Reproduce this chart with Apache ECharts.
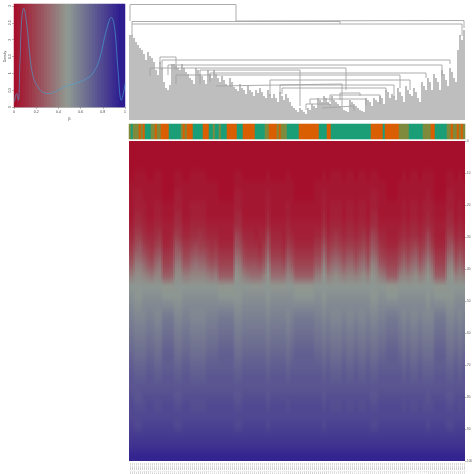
<!DOCTYPE html>
<html><head><meta charset="utf-8">
<style>html,body{margin:0;padding:0;background:#fff}#c{width:474px;height:474px}</style>
<script src="https://cdn.jsdelivr.net/npm/echarts@6/dist/echarts.min.js"></script>
</head><body><div id="c"></div>
<script>
// heatmap levels, base 36: 0 = red, i = grey, z = blue. One string per row, top to bottom.
const heatRows = [
"000000000000 000000000000 000000000000 000000000000 000000000000 000000000000 000000000000",
"000000000000 000000000000 000000000000 000000000000 000000000000 000000000000 000000000000",
"000000000000 000000000000 000000000000 000000000000 000000000000 000000000000 000000000000",
"011100110001 100111100000 001100000010 000100000000 101110110110 110000001011 011100011010",
"111111110001 111111111100 001111111111 111110000011 111111111111 111100011111 111100011111",
"122111110002 211111111100 002211111121 111110000011 211111111111 221100011111 112100022111",
"122211221112 211222211111 112211111121 111211111111 212221221221 221111112122 122211122121",
"133211221113 311222211111 113311111131 111211111111 312221221221 331111112122 123211133121",
"244322332224 422333322222 224422222242 222322222222 423332332332 442222223233 234322244232",
"366433452236 533445433322 227633323373 332432222233 634543443453 763322234344 347422266343",
"589654673349 855676654533 339854443594 443653333355 956765665675 985433356567 569633389565",
"7bb9769a556b b779a9976755 55cb766657c6 665975555577 c79a979979a7 cb765557979a 79c9555bc797",
"aeeca9cd778e eaacdcca9a77 77fea9998af9 998ca77777aa facdcaccacda fea9777acacd acfc777efaca",
"eggfedffaabg geeffffedeaa aahgedcccehc cccfeaaaaaee hefgfeffefge hgedaaaefefg efhfaaaghefe",
"iiiiiiiihhhi iiiiiiiiiihh hhiiiihhhiih hhhiihhhhhii iiiiiiiiiiii iiiihhhiiiii iiiihhhiiiii",
"jiijjjjjiiii ijjjjjjjjjii iiiijjjjjjij jjjjjiiiiijj ijjjjjjjjjjj iijjiiijjjjj jjijiiiiijjj",
"kjjkkkkkkkkj jkkkkkkkkkkk kkjjkkkkkkjk kkkkkkkkkkkk jkkkkkkkkkkk jjkkkkkkkkkk kkjkkkkjjkkk",
"lkkkllkkmmmk kllkkkklllmm mmkkllllllkl lllklmmmmmll klkkklkklkkl kkllmmmlklkk lkkkmmmkklkl",
"mlllmmllnnnl lmmllllmmmnn nnllmmmmmmlm mmmlmnnnnnmm lmlllmllmllm llmmnnnmlmll mlllnnnllmlm",
"nmmmnnmmooom mnnmmmmnnnoo oommnnnnnnmn nnnmnooooonn mnmmmnmmnmmn mmnnooonmnmm nmmmooommnmn",
"onnnoonnpppn noonnnnooopp ppnnoooooono ooonopppppoo nonnnonnonno nnoopppononn onnnpppnnono",
"poooppooqqqo oppoooopppqq qqooppppppop pppopqqqqqpp opooopoopoop ooppqqqpopoo poooqqqoopop",
"qpppqqppqqqp pqqppppqqqqq qqppqqqqqqpq qqqpqqqqqqqq pqpppqppqppq ppqqqqqqpqpp qpppqqqppqpq",
"rqqqrrqqrrrq qrrqqqqrrrrr rrqqrrrrrrqr rrrqrrrrrrrr qrqqqrqqrqqr qqrrrrrrqrqq rqqqrrrqqrqr",
"rrrrrrrrrrrr rrrrrrrrrrrr rrrrrrrrrrrr rrrrrrrrrrrr rrrrrrrrrrrr rrrrrrrrrrrr rrrrrrrrrrrr",
"srrssssssssr rsssssssssss ssrrssssssrs ssssssssssss rsssssssssss rrssssssssss ssrssssrrsss",
"tsssttssttts sttssssttttt ttssttttttst tttstttttttt stssstsstsst ssttttttstss tssstttsstst",
"tttttttttttt tttttttttttt tttttttttttt tttttttttttt tttttttttttt tttttttttttt tttttttttttt",
"uttuuuuuuuut tuuuuuuuuuuu uuttuuuuuutu uuuuuuuuuuuu tuuuuuuuuuuu ttuuuuuuuuuu uutuuuuttuuu",
"vvvvvvvvvvvv vvvvvvvvvvvv vvvvvvvvvvvv vvvvvvvvvvvv vvvvvvvvvvvv vvvvvvvvvvvv vvvvvvvvvvvv",
"wwwwwwwwwwww wwwwwwwwwwww wwwwwwwwwwww wwwwwwwwwwww wwwwwwwwwwww wwwwwwwwwwww wwwwwwwwwwww",
"yyyyyyyyyyyy yyyyyyyyyyyy yyyyyyyyyyyy yyyyyyyyyyyy yyyyyyyyyyyy yyyyyyyyyyyy yyyyyyyyyyyy"
];
const heatColors = ['#a50f2b', '#909a92', '#2e1d90'];
const keyLevels = [0,1,2,3,4,5,6,7,8,9,10,11,12,13,14,15,16,17,18,19,20,21,22,23,24,25,26,27,28,29,30,31,32,33,34,35,35];
const densityX = [.003,.024,.039,.054,.069,.087,.114,.144,.174,.219,.263,.323,.398,.473,.563,.653,.713,.772,.832,.877,.907,.937,.967,.988,1];
const densityY = [.15,.40,.2,1.39,2.58,2.93,2.48,1.49,.89,.58,.43,.40,.50,.62,.71,.84,1.01,1.44,2.28,2.66,2.33,1.09,.2,.45,.7];
// group membership strip: T teal, O orange, M mixed
const stripCodes = "MTMMMOMOTT TMMOMMOOOO TTTTTTMOMO OOTTTTTOOO TTMTTMTTTO OOOOTTTOOO OOOTTTTTMM OOOOMOMMMT TTTTTOOOOO OOOOOTTTTO OTTTTTTTTT TTTTTTTTTT TOOOOOOTOO OOOOOMMMMM TTTTTTTMMM MOOTTTTTTM MOMMOMOM".replace(/ /g,'');
const stripColors = {T:'#1b9e77', O:'#d95f02', M:'#7f8a3c'};
// dendrogram leaf heights
const leafHeights = [85,85,82,78,75,72,70,66,60,68,64,62,58,50,45,58,52,38,32,30,35,
56,56,54,52,50,56,52,48,46,42,40,36,52,50,46,44,40,36,50,46,42,50,46,42,38,44,40,36,34,42,
38,33,31,29,36,32,30,26,34,30,28,24,30,27,32,28,24,22,30,26,22,26,22,18,28,24,20,26,22,18,
14,12,10,8,12,10,8,6,12,10,16,14,12,22,20,18,24,22,18,16,24,20,18,16,14,12,10,9,8,20,
18,16,14,12,10,9,8,22,20,18,14,22,20,18,24,22,16,30,28,22,26,24,20,32,28,24,18,34,30,26,
24,32,28,22,18,38,34,30,42,38,30,46,42,38,30,50,46,40,34,52,48,42,38,70,85,80,90];
// dendrogram merges: left leaf, right leaf, height, left leg end, right leg end
const merges = [
[0,53,115.5,99,99],[53,167,99.5,99,92],[1,105,98.5,96,96],[1,166,96,84,84],
[16,160,60,50,56],[15,23,63,56,50],[19,156,55,45,44],[10,108,52,44,30],
[35,85,50,36,14],[40,148,47,38,42],[23,135,45,36,32],[70,140,40,24,30],
[43,106,36,34,12],[75,132,35,26,22],[76,128,32,26,28],[105,115,27,20,24],
[100,125,25,18,16],[90,118,21,16,15],[88,100,16,10,14],[96,112,14,12,9]];
const sampleLabels = leafHeights.map((_, i) => 'S' + String(i + 1).padStart(3, '0') + '_R01C01');

const matrix = heatRows.map(r => r.replace(/ /g, ''));
const cols = matrix[0].length, rows = matrix.length;
const columnIds = matrix[0].split('').map((_, c) => [c, 0]);
const levelColor = l => echarts.color.lerp(l / 35, heatColors);
const gradientFor = c => {
  const stops = matrix.map((row, r) => ({offset:(r + .5) / rows, color:levelColor(parseInt(row[c], 36))}));
  return new echarts.graphic.LinearGradient(0, 0, 0, 1, [{offset:0, color:stops[0].color}, ...stops, {offset:1, color:stops[rows - 1].color}]);
};
const columnItem = shift => (params, api) => {
  const c = api.value(0), p = api.coord([c, 0]), s = api.size([1, 1]);
  const x = p[0] - s[0] / 2 + s[0] * shift;
  const w = c === cols - 1 ? s[0] * (1 - shift) : s[0];
  return {type:'rect', shape:{x, y:p[1] - s[1] / 2, width:w, height:s[1] * rows},
    style:{fill:gradientFor(c), opacity:shift ? .5 : 1}};
};
const mergePath = [];
merges.forEach(m => mergePath.push([m[0], m[3]], [m[0], m[2]], [m[1], m[2]], [m[1], m[4]], [m[1], '-']));
const axisGrey = '#7a7a7a';
const none = {show:false};
const gridBase = {outerBoundsMode:'none', containLabel:false};

const option = {
  animation:false, backgroundColor:'#fff',
  visualMap:{show:false, min:0, max:35, seriesIndex:[2], dimension:2, inRange:{color:heatColors}},
  grid:[
    {...gridBase, left:129, top:141, width:336, height:320},
    {...gridBase, left:14, top:4, width:111, height:103},
    {...gridBase, left:14, top:6, width:111, height:101},
    {...gridBase, left:129, top:4, width:336, height:116},
    {...gridBase, left:129, top:124, width:336, height:15}
  ],
  xAxis:[
    {gridIndex:0, type:'category', data:columnIds.map(d=>d[0]), show:false},
    {gridIndex:0, type:'category', position:'bottom', data:sampleLabels,
      axisLine:none, axisTick:none, splitLine:none,
      axisLabel:{interval:0, rotate:90, fontSize:2, color:'#999', margin:2, fontFamily:'Liberation Sans'}},
    {gridIndex:1, type:'category', data:keyLevels.map((_,i)=>i), show:false},
    {gridIndex:2, type:'value', min:0, max:1, interval:.2, position:'bottom', name:'β', nameLocation:'middle', nameGap:10,
      nameTextStyle:{fontSize:4, color:'#444'},
      axisLine:{show:true, lineStyle:{color:axisGrey, width:.5}},
      axisTick:{show:true, length:2, lineStyle:{color:axisGrey, width:.5}},
      splitLine:none, axisLabel:{fontSize:3.5, color:'#444', margin:3, formatter:v=>String(+v.toFixed(1))}},
    {gridIndex:3, type:'value', min:-.5, max:167.5, show:false},
    {gridIndex:4, type:'category', data:stripCodes.split('').map((_,i)=>i), show:false}
  ],
  yAxis:[
    {gridIndex:0, type:'category', inverse:true, data:matrix.map((_,i)=>i), show:false},
    {gridIndex:0, type:'value', position:'right', inverse:true, min:0, max:100, interval:10,
      axisLine:none, splitLine:none,
      axisTick:{show:true, length:1.5, lineStyle:{color:axisGrey, width:.5}},
      axisLabel:{fontSize:3, color:'#555', margin:2}},
    {gridIndex:1, type:'category', data:[0], show:false},
    {gridIndex:2, type:'value', min:0, max:3, interval:.5, position:'left', name:'Density', nameLocation:'middle', nameGap:7,
      nameTextStyle:{fontSize:3.5, color:'#444'},
      axisLine:{show:true, lineStyle:{color:axisGrey, width:.5}},
      axisTick:{show:true, length:2, lineStyle:{color:axisGrey, width:.5}},
      splitLine:none, axisLabel:{fontSize:3.5, color:'#444', margin:2, rotate:90}},
    {gridIndex:3, type:'value', min:0, max:116, show:false},
    {gridIndex:4, type:'category', data:[0], show:false}
  ],
  series:[
    {type:'custom', xAxisIndex:0, yAxisIndex:0, data:columnIds, renderItem:columnItem(0), silent:true, progressive:0, encode:{x:0, y:1}},
    {type:'custom', xAxisIndex:0, yAxisIndex:0, data:columnIds, renderItem:columnItem(.5), silent:true, progressive:0, encode:{x:0, y:1}},
    {type:'heatmap', xAxisIndex:2, yAxisIndex:2, data:keyLevels.map((v,i)=>[i,0,v]), progressive:0, silent:true},
    {type:'line', xAxisIndex:3, yAxisIndex:3, data:densityX.map((x,i)=>[x,densityY[i]]), smooth:.4, showSymbol:false, silent:true, z:5,
      lineStyle:{color:'rgba(70,165,215,.62)', width:1}},
    {type:'bar', xAxisIndex:4, yAxisIndex:4, data:leafHeights.map((h,i)=>[i,h]), barWidth:1.4, silent:true,
      itemStyle:{color:'#a3a3a3'}},
    {type:'line', xAxisIndex:4, yAxisIndex:4, data:mergePath, connectNulls:false, showSymbol:false, silent:true,
      lineStyle:{color:'#a3a3a3', width:.9}},
    {type:'heatmap', xAxisIndex:5, yAxisIndex:5, progressive:0, silent:true,
      data:stripCodes.split('').map((k,i)=>({value:[i,0,'TOM'.indexOf(k)], itemStyle:{color:stripColors[k]}}))}
  ]
};
echarts.init(document.getElementById('c'), null, {renderer:'canvas'}).setOption(option);
</script></body></html>
